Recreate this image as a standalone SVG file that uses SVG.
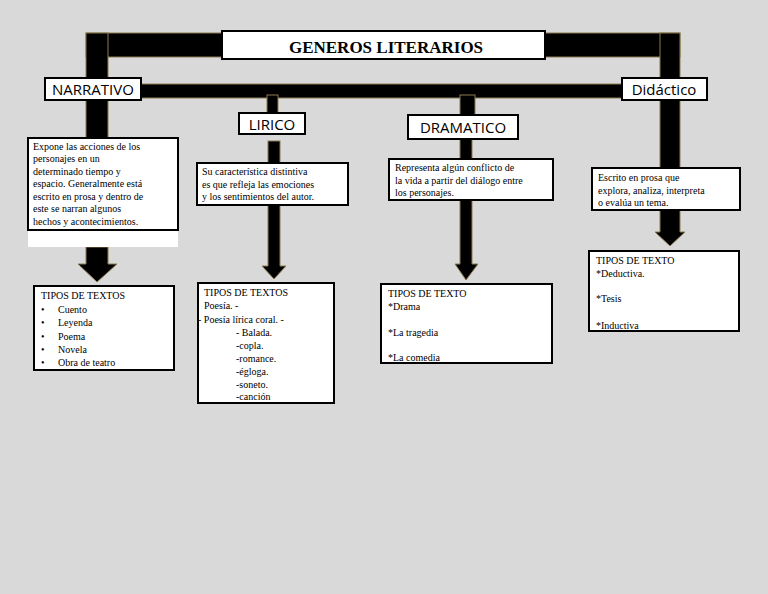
<svg xmlns="http://www.w3.org/2000/svg" width="768" height="594" viewBox="0 0 768 594">
<style>
.bar{fill:#000;stroke:#8a7a50;stroke-width:1}
.box{fill:#fff;stroke:#000;stroke-width:2}
.lbl{font-family:"Open Sans","DejaVu Sans",sans-serif;font-size:15px;fill:#000}
.t{font-family:"Liberation Serif",serif;font-size:10px;fill:#000}
</style>
<rect width="768" height="594" fill="#d9d9d9"/>
<g id="connectors">
<rect class="bar" x="86" y="33" width="594" height="24"/>
<rect class="bar" x="86" y="33" width="22" height="48"/>
<rect class="bar" x="660" y="33" width="20" height="48"/>
<rect class="bar" x="140" y="84" width="486" height="14"/>
<rect class="bar" x="86" y="100" width="22" height="40"/>
<path class="bar" d="M86 247H108V264H117L97 282L78 264H86Z"/>
<rect class="bar" x="267" y="95" width="11" height="19"/>
<rect class="bar" x="268" y="141" width="12" height="23"/>
<path class="bar" d="M268 205H280V266H286L274 279L262 266H268Z"/>
<rect class="bar" x="460" y="95" width="15" height="21"/>
<rect class="bar" x="460" y="139" width="12" height="21"/>
<path class="bar" d="M460 200H472V264H478L466 280L455 264H460Z"/>
<rect class="bar" x="660" y="100" width="20" height="69"/>
<path class="bar" d="M660 210H680V232H685L670 246L655 232H660Z"/>
</g>
<g id="title"><rect class="box" x="222" y="31" width="323" height="28"/><text x="386" y="53" text-anchor="middle" font-family="Liberation Serif,serif" font-weight="bold" font-size="17">GENEROS LITERARIOS</text></g>
<g id="narrativo"><rect class="box" x="45" y="78" width="96" height="22"/><text class="lbl" x="93" y="95" text-anchor="middle">NARRATIVO</text></g>
<g id="lirico"><rect class="box" x="239" y="113" width="66" height="21"/><text class="lbl" x="272" y="130" text-anchor="middle">LIRICO</text></g>
<g id="dramatico"><rect class="box" x="408" y="115" width="110" height="24"/><text class="lbl" x="463" y="133" text-anchor="middle" font-size="16">DRAMATICO</text></g>
<g id="didactico"><rect class="box" x="622" y="78" width="85" height="22"/><text class="lbl" x="664" y="95" text-anchor="middle">Didáctico</text></g>
<g id="narr-desc"><rect x="28" y="229" width="150" height="18" fill="#fff"/><rect class="box" x="28" y="138" width="150" height="92"/>
<text class="t" x="33" y="150">Expone las acciones de los</text><text class="t" x="33" y="162">personajes en un</text><text class="t" x="33" y="175">determinado tiempo y</text><text class="t" x="33" y="187">espacio. Generalmente  está</text><text class="t" x="33" y="200">escrito en prosa y  dentro de</text><text class="t" x="33" y="212">este se narran  algunos</text><text class="t" x="33" y="225">hechos y  acontecimientos.</text></g>
<g id="lir-desc"><rect class="box" x="197" y="163" width="151" height="42"/>
<text class="t" x="202" y="175">Su característica distintiva</text><text class="t" x="202" y="188">es que refleja las  emociones</text><text class="t" x="202" y="200">y los  sentimientos del autor.</text></g>
<g id="dram-desc"><rect class="box" x="389" y="159" width="164" height="41"/>
<text class="t" x="395" y="171">Representa algún conflicto de</text><text class="t" x="395" y="184">la vida a partir del diálogo  entre</text><text class="t" x="395" y="196">los personajes.</text></g>
<g id="did-desc"><rect class="box" x="592" y="168" width="148" height="42"/>
<text class="t" x="598" y="181">Escrito en prosa que</text><text class="t" x="598" y="194">explora, analiza, interpreta</text><text class="t" x="598" y="206">o evalúa un tema.</text></g>
<g id="narr-tipos"><rect class="box" x="34" y="286" width="140" height="84"/>
<text class="t" x="41" y="299">TIPOS DE TEXTOS</text>
<text class="t" x="41" y="313">•</text><text class="t" x="58" y="313">Cuento</text>
<text class="t" x="41" y="326">•</text><text class="t" x="58" y="326">Leyenda</text>
<text class="t" x="41" y="340">•</text><text class="t" x="58" y="340">Poema</text>
<text class="t" x="41" y="353">•</text><text class="t" x="58" y="353">Novela</text>
<text class="t" x="41" y="366">•</text><text class="t" x="58" y="366">Obra de teatro</text></g>
<g id="lir-tipos"><rect class="box" x="198" y="283" width="136" height="120"/>
<text class="t" x="204" y="296">TIPOS DE TEXTOS</text><text class="t" x="204" y="309">Poesía. -</text>
<text class="t" x="198" y="323"> - Poesía lírica  coral. -</text>
<text class="t" x="203" y="336"></text><text class="t" x="236" y="336">- Balada.</text>
<text class="t" x="203" y="349"></text><text class="t" x="236" y="349">-copla.</text>
<text class="t" x="203" y="362"></text><text class="t" x="236" y="362">-romance.</text>
<text class="t" x="203" y="375"></text><text class="t" x="236" y="375">-égloga.</text>
<text class="t" x="203" y="388"></text><text class="t" x="236" y="388">-soneto.</text>
<text class="t" x="203" y="400"></text><text class="t" x="236" y="400">-canción</text></g>
<g id="dram-tipos"><rect class="box" x="381" y="284" width="171" height="79"/>
<text class="t" x="388" y="297">TIPOS DE TEXTO</text><text class="t" x="388" y="310">*Drama</text><text class="t" x="388" y="336">*La tragedia</text><text class="t" x="388" y="361">*La comedia</text></g>
<g id="did-tipos"><rect class="box" x="589" y="251" width="150" height="80"/>
<text class="t" x="596" y="264">TIPOS DE TEXTO</text><text class="t" x="596" y="277">*Deductiva.</text><text class="t" x="596" y="302">*Tesis</text><text class="t" x="596" y="329">*Inductiva</text></g>
</svg>
